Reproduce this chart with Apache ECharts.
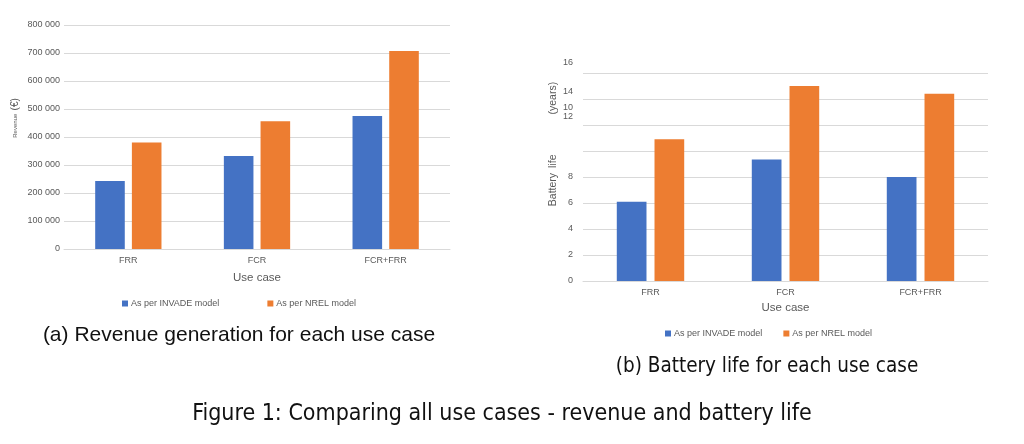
<!DOCTYPE html>
<html>
<head>
<meta charset="utf-8">
<script src="https://cdn.jsdelivr.net/npm/echarts@6/dist/echarts.min.js"></script>
<style>
  html, body { margin: 0; padding: 0; background: #fff; }
  #chart { width: 1024px; height: 444px; }
</style>
</head>
<body>
<div id="chart"></div>
<script>
// use cases
const categories = ["FRR", "FCR", "FCR+FRR"];
const seriesNames = ["As per INVADE model", "As per NREL model"];

// (a) revenue in euro
const revenueInvade = [243000, 332000, 475000];
const revenueNrel = [380000, 456000, 707000];

// (b) battery life in years
const lifeInvade = [6.1, 9.35, 8.0];
const lifeNrel = [10.9, 15.0, 14.4];

const revenueTicks = { min: 0, max: 800000, interval: 100000 };
const lifeTicks = { min: 0, max: 16, interval: 2 };

const BLUE = "#4472C4";
const ORANGE = "#ED7D31";
const GREY = "#595959";
const GRID = "#D9D9D9";
const FONT = "'Liberation Sans', Arial, sans-serif";
const NARROW = "'Liberation Sans Narrow', 'DejaVu Sans Condensed', 'Liberation Sans', sans-serif";

// labels on the right chart sit shifted up in the original figure
const lifeLabelShift = { 16: 20, 14: 14, 12: 16, 10: 86 };

const chart = echarts.init(document.getElementById("chart"), null, { renderer: "canvas" });

function fmtSpace(v) {
  return String(v).replace(/\B(?=(\d{3})+(?!\d))/g, " ");
}

function lifeRich() {
  const rich = {};
  for (let v = lifeTicks.min; v <= lifeTicks.max; v += lifeTicks.interval) {
    rich["s" + v] = {
      fontSize: 9,
      fontFamily: FONT,
      color: GREY,
      padding: [0, 0, lifeLabelShift[v] || 0, 0],
    };
  }
  return rich;
}

const xAxisCommon = {
  type: "category",
  data: categories,
  axisTick: { show: false },
  axisLine: { lineStyle: { color: GRID } },
  axisLabel: { color: GREY, fontSize: 9, fontFamily: FONT, margin: 7 },
  name: "Use case",
  nameLocation: "middle",
  nameTextStyle: { color: GREY, fontSize: 11.5, fontFamily: FONT },
};

const legendCommon = {
  icon: "rect",
  itemWidth: 6,
  itemHeight: 6,
  textStyle: { color: GREY, fontSize: 9, fontFamily: FONT, padding: [0, 0, 0, -2] },
  data: seriesNames,
};

const option = {
  animation: false,
  backgroundColor: "#fff",
  title: [
    {
      text: "(a) Revenue generation for each use case",
      left: 234, top: 320, textAlign: "center",
      textStyle: { fontSize: 21, fontWeight: "normal", color: "#111", fontFamily: FONT },
    },
    {
      text: "(b) Battery life for each use case",
      left: 762, top: 351, textAlign: "center",
      textStyle: { fontSize: 20.5, fontWeight: "normal", color: "#111", fontFamily: NARROW },
    },
    {
      text: "Figure 1: Comparing all use cases - revenue and battery life",
      left: 497, top: 398, textAlign: "center",
      textStyle: { fontSize: 23, fontWeight: "normal", color: "#111", fontFamily: NARROW },
    },
  ],
  legend: [
    Object.assign({}, legendCommon, { left: 117, top: 294, itemGap: 48 }),
    Object.assign({}, legendCommon, { left: 660, top: 324, itemGap: 21 }),
  ],
  grid: [
    { left: 64, top: 25, width: 386, height: 224 },
    { left: 583, top: 73, width: 405, height: 208 },
  ],
  xAxis: [
    Object.assign({}, xAxisCommon, { gridIndex: 0, nameGap: 23 }),
    Object.assign({}, xAxisCommon, { gridIndex: 1, nameGap: 21 }),
  ],
  yAxis: [
    {
      type: "value",
      gridIndex: 0,
      min: revenueTicks.min, max: revenueTicks.max, interval: revenueTicks.interval,
      axisLine: { show: false },
      axisTick: { show: false },
      splitLine: { lineStyle: { color: GRID } },
      axisLabel: { color: GREY, fontSize: 9, fontFamily: FONT, margin: 4, formatter: fmtSpace },
      name: "{a|Revenue} {b|(€)}",
      nameLocation: "middle",
      nameGap: 43,
      nameRotate: 90,
      nameTextStyle: {
        padding: [0, 0, 0, 38],
        rich: {
          a: { fontSize: 6, color: GREY, fontFamily: FONT },
          b: { fontSize: 10, color: GREY, fontFamily: FONT },
        },
      },
    },
    {
      type: "value",
      gridIndex: 1,
      min: lifeTicks.min, max: lifeTicks.max, interval: lifeTicks.interval,
      axisLine: { show: false },
      axisTick: { show: false },
      splitLine: { lineStyle: { color: GRID } },
      axisLabel: {
        margin: 10,
        formatter: (v) => "{s" + v + "|" + v + "}",
        rich: lifeRich(),
      },
      name: "{a|Battery}{b|life}{c|(years)}",
      nameLocation: "middle",
      nameGap: 23,
      nameRotate: 90,
      nameTextStyle: {
        padding: [0, 0, 0, 66],
        rich: {
          a: { fontSize: 10.5, color: GREY, fontFamily: FONT },
          b: { fontSize: 10.5, color: GREY, fontFamily: FONT, padding: [0, 0, 0, 5] },
          c: { fontSize: 10.5, color: GREY, fontFamily: FONT, padding: [0, 0, 0, 40] },
        },
      },
    },
  ],
  series: [
    {
      name: seriesNames[0], type: "bar", xAxisIndex: 0, yAxisIndex: 0,
      data: revenueInvade, itemStyle: { color: BLUE }, barWidth: "23%", barGap: "24%",
    },
    {
      name: seriesNames[1], type: "bar", xAxisIndex: 0, yAxisIndex: 0,
      data: revenueNrel, itemStyle: { color: ORANGE }, barWidth: "23%", barGap: "24%",
    },
    {
      name: seriesNames[0], type: "bar", xAxisIndex: 1, yAxisIndex: 1,
      data: lifeInvade, itemStyle: { color: BLUE }, barWidth: "22%", barGap: "27%",
    },
    {
      name: seriesNames[1], type: "bar", xAxisIndex: 1, yAxisIndex: 1,
      data: lifeNrel, itemStyle: { color: ORANGE }, barWidth: "22%", barGap: "27%",
    },
  ],
};

chart.setOption(option);
</script>
</body>
</html>
